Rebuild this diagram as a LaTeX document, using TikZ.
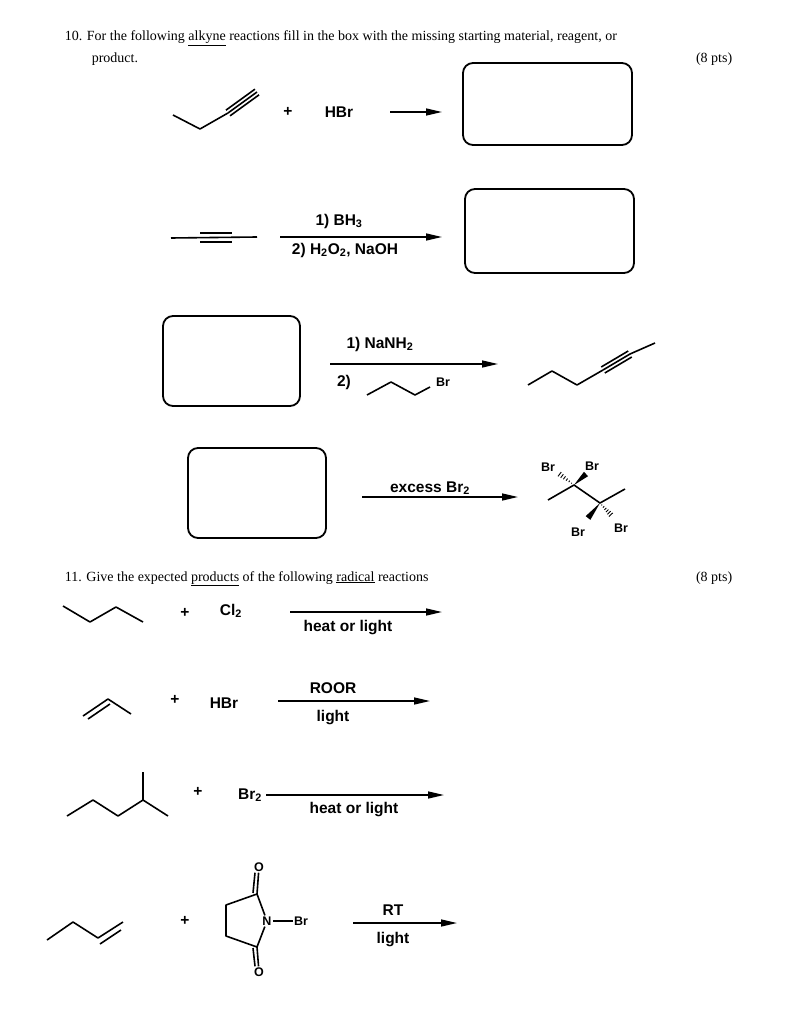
\documentclass[tikz,border=0pt]{standalone}
\usepackage{fontspec}
\setmainfont{Liberation Serif}
\newfontfamily\lab{Liberation Sans}
\usetikzlibrary{arrows.meta,calc}
\begin{document}
\begin{tikzpicture}[x=1pt,y=-1pt,line width=1.6pt,line join=round,
  txt/.style={font=\fontsize{14}{16}\selectfont,inner sep=0pt,anchor=base west},
  lb/.style={font=\lab\bfseries\fontsize{15.5}{17}\selectfont,inner sep=1pt},
  sm/.style={font=\lab\bfseries\fontsize{12.5}{14}\selectfont,inner sep=0.5pt},
  rx/.style={-{Triangle[length=16pt,width=7pt]},line width=1.5pt},
  ansbox/.style={draw,rounded corners=10pt,line width=1.8pt}]
\useasboundingbox (0,0) rectangle (803,1024);
% Q10 text
\node[txt] (q10a) at (64,41) {10. For the following \underline{alkyne} reactions fill in the box with the missing starting material, reagent, or};
\node[txt] (q10b) at (91,63) {product.};
\node[txt,anchor=base east] (q10p) at (733,63) {(8 pts)};
% Rxn 1
\draw (173,115) -- (200,129) -- (228,113);
\draw (228,113) -- (257,92);
\draw ($(228,113)!3.5pt!90:(257,92)$) -- ($(257,92)!3.5pt!-90:(228,113)$);
\draw ($(228,113)!3.5pt!-90:(257,92)$) -- ($(257,92)!3.5pt!90:(228,113)$);
\node[lb] (p1) at (288,112) {+};
\node[lb] (h1) at (339,112) {HBr};
\coordinate (a1s) at (390,112); \coordinate (a1e) at (442,112);
\draw[rx] (a1s) -- (a1e);
\node[ansbox,minimum width=169pt,minimum height=82pt] (b1) at (547.5,104) {};
% Rxn 2
\draw (171,238) -- (257,237);
\draw (200,233) -- (232,233); \draw (200,242) -- (232,242);
\coordinate (a2s) at (280,237); \coordinate (a2e) at (442,237);
\draw[rx] (a2s) -- (a2e);
\node[lb] (r2a) at (339,221) {1) BH\textsubscript{3}};
\node[lb] (r2b) at (345,250) {2) H\textsubscript{2}O\textsubscript{2}, NaOH};
\node[ansbox,minimum width=169pt,minimum height=84pt] (b2) at (549.5,231) {};
% Rxn 3
\node[ansbox,minimum width=137pt,minimum height=90pt] (b3) at (231.5,361) {};
\coordinate (a3s) at (330,364); \coordinate (a3e) at (498,364);
\draw[rx] (a3s) -- (a3e);
\node[lb] (r3a) at (380,344) {1) NaNH\textsubscript{2}};
\node[lb] (r3b) at (344,382) {2)};
\draw (367,395) -- (391,382) -- (415,395) -- (430,387);
\node[sm] (br3) at (443,382) {Br};
\draw (528,385) -- (552,371) -- (577,385) -- (603,370);
\draw (603,370) -- (630,354) -- (655,343);
\draw ($(603,370)!3.5pt!90:(630,354)$) -- ($(630,354)!3.5pt!-90:(603,370)$);
\draw ($(603,370)!3.5pt!-90:(630,354)$) -- ($(630,354)!3.5pt!90:(603,370)$);
% Rxn 4
\node[ansbox,minimum width=138pt,minimum height=90pt] (b4) at (257,493) {};
\coordinate (a4s) at (362,497); \coordinate (a4e) at (518,497);
\draw[rx] (a4s) -- (a4e);
\node[lb] (r4) at (430,488) {excess Br\textsubscript{2}};
\coordinate (c2) at (574,485); \coordinate (c3) at (600,503);
\draw (548,500) -- (c2) -- (c3) -- (625,489);
\node[sm] (bra) at (548,467) {Br};
\node[sm] (brb) at (592,466) {Br};
\node[sm] (brc) at (578,532) {Br};
\node[sm] (brd) at (621,528) {Br};
\coordinate (ea) at (558,473); \coordinate (eb) at (586,474);
\coordinate (ec) at (588,518); \coordinate (ed) at (612,516);
\fill ($(c2)$) -- ($(eb)!3pt!90:(c2)$) -- ($(eb)!3pt!-90:(c2)$) -- cycle;
\fill ($(c3)$) -- ($(ec)!3pt!90:(c3)$) -- ($(ec)!3pt!-90:(c3)$) -- cycle;
\foreach \t [evaluate=\t as \w using 3*\t] in {0.15,0.3,...,1.0}{
  \draw[line width=0.9pt] ($($(c2)!\t!(ea)$)!\w pt!90:(ea)$) -- ($($(c2)!\t!(ea)$)!\w pt!-90:(ea)$);
  \draw[line width=0.9pt] ($($(c3)!\t!(ed)$)!\w pt!90:(ed)$) -- ($($(c3)!\t!(ed)$)!\w pt!-90:(ed)$);
}
% Q11
\node[txt] (q11) at (64,581) {11. Give the expected \underline{products} of the following \underline{radical} reactions};
\node[txt,anchor=base east] (q11p) at (733,581) {(8 pts)};
% Row 1
\draw (63,606) -- (90,622) -- (116,607) -- (143,622);
\node[lb] (p5) at (185,613) {+};
\node[lb] (cl) at (231,611) {Cl\textsubscript{2}};
\coordinate (a5s) at (290,612); \coordinate (a5e) at (442,612);
\draw[rx] (a5s) -- (a5e);
\node[lb] (r5) at (348,628) {heat or light};
% Row 2
\draw (83,716) -- (108,699) -- (131,714);
\draw (88,719) -- (110,704);
\node[lb] (p6) at (175,700) {+};
\node[lb] (h6) at (224,703) {HBr};
\coordinate (a6s) at (278,701); \coordinate (a6e) at (430,701);
\draw[rx] (a6s) -- (a6e);
\node[lb] (r6a) at (333,688) {ROOR};
\node[lb] (r6b) at (333,718) {light};
% Row 3
\draw (67,816) -- (93,800) -- (118,816) -- (143,800) -- (168,816);
\draw (143,800) -- (143,772);
\node[lb] (p7) at (198,792) {+};
\node[lb] (b7) at (250,795) {Br\textsubscript{2}};
\coordinate (a7s) at (266,795); \coordinate (a7e) at (444,795);
\draw[rx] (a7s) -- (a7e);
\node[lb] (r7) at (354,810) {heat or light};
% Row 4
\draw (47,940) -- (73,922) -- (98,938) -- (123,922);
\draw (100,944) -- (121,930);
\node[lb] (p8) at (185,921) {+};
\node[sm] (n8) at (267,921) {N};
\node[sm] (br8) at (301,921) {Br};
\node[sm] (o1) at (259,867) {O};
\node[sm] (o2) at (259,972) {O};
\draw (n8) -- (257,894) -- (226,905) -- (226,936) -- (257,947) -- (n8);
\draw (257,894) -- (o1); \draw (253,893) -- ($(o1.south)+(-4,0)$);
\draw (257,947) -- (o2); \draw (253,948) -- ($(o2.north)+(-4,0)$);
\draw (n8) -- (br8);
\coordinate (a8s) at (353,923); \coordinate (a8e) at (457,923);
\draw[rx] (a8s) -- (a8e);
\node[lb] (r8a) at (393,910) {RT};
\node[lb] (r8b) at (393,940) {light};
\end{tikzpicture}
\end{document}
